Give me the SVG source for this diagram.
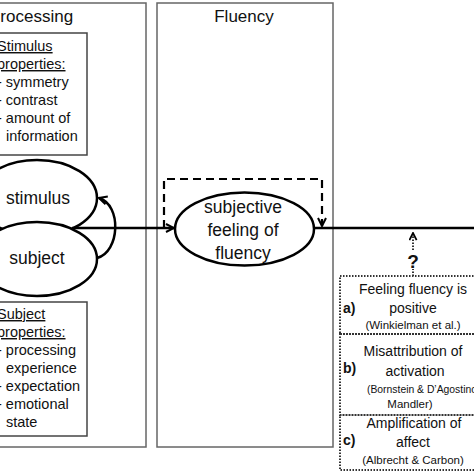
<svg xmlns="http://www.w3.org/2000/svg" width="474" height="474" viewBox="0 0 474 474">
<defs>
<style>
text{font-family:"Liberation Sans",Arial,sans-serif;fill:#111}
.panel{fill:none;stroke:#666;stroke-width:1.5}
.pbox{fill:#fff;stroke:#444;stroke-width:1.5}
.title{font-size:17px}
.prop{font-size:14.5px}
.ell{fill:#fff;stroke:#000;stroke-width:2.5}
.etext{font-size:17.5px;text-anchor:middle}
.dot{fill:none;stroke:#333;stroke-width:2;stroke-dasharray:1.5 1.5}
.rt{font-size:14px;text-anchor:middle}
.cite{font-size:11.5px}
.lbl{font-size:14px;font-weight:bold}
.line{fill:none;stroke:#000;stroke-width:2.5}
</style>
<marker id="open" viewBox="0 0 10 10" refX="9" refY="5" markerWidth="10" markerHeight="10" markerUnits="userSpaceOnUse" orient="auto">
<path d="M1,1 L9,5 L1,9" fill="none" stroke="#000" stroke-width="2"/>
</marker>
<marker id="small" viewBox="0 0 10 10" refX="9" refY="5" markerWidth="9" markerHeight="9" markerUnits="userSpaceOnUse" orient="auto">
<path d="M1,1 L9,5 L1,9" fill="none" stroke="#000" stroke-width="2"/>
</marker>
</defs>
<rect width="474" height="474" fill="#fff"/>

<g id="panel-processing">
<rect class="panel" x="-10" y="3" width="156" height="444"/>
<text class="title" x="-11" y="22">Processing</text>
</g>
<g id="panel-fluency">
<rect class="panel" x="157" y="3" width="176" height="444"/>
<text class="title" x="244" y="22" text-anchor="middle">Fluency</text>
</g>

<g id="stimulus-properties">
<rect class="pbox" x="-10" y="33" width="97" height="122"/>
<text class="prop" x="-3" y="51" text-decoration="underline">Stimulus</text>
<text class="prop" x="-3" y="69" text-decoration="underline">properties:</text>
<text class="prop" x="-3" y="87">- symmetry</text>
<text class="prop" x="-3" y="105">- contrast</text>
<text class="prop" x="-3" y="123">- amount of</text>
<text class="prop" x="6" y="141">information</text>
</g>

<g id="subject-properties">
<rect class="pbox" x="-10" y="302" width="97" height="134"/>
<text class="prop" x="-3" y="319" text-decoration="underline">Subject</text>
<text class="prop" x="-3" y="337" text-decoration="underline">properties:</text>
<text class="prop" x="-3" y="355">- processing</text>
<text class="prop" x="6" y="373">experience</text>
<text class="prop" x="-3" y="391">- expectation</text>
<text class="prop" x="-3" y="409">- emotional</text>
<text class="prop" x="6" y="427">state</text>
</g>

<g id="stimulus">
<ellipse class="ell" cx="37" cy="198" rx="60" ry="38"/>
<text class="etext" x="38" y="204">stimulus</text>
</g>
<g id="subject">
<ellipse class="ell" cx="37" cy="259" rx="60" ry="37"/>
<text class="etext" x="37" y="264">subject</text>
</g>

<g id="fluency-feeling">
<ellipse class="ell" cx="244.5" cy="229" rx="69.5" ry="36.5"/>
<text class="etext" x="243" y="213">subjective</text>
<text class="etext" x="243" y="236">feeling of</text>
<text class="etext" x="243" y="259">fluency</text>
</g>

<g id="connectors">
<path class="line" d="M72,228 H174" marker-end="url(#open)"/>
<path class="line" d="M97,258 C120,252 122,205 99,198" marker-end="url(#open)"/>
<path class="line" d="M314,228 H480"/>
<path d="M164,228 V179 H322 V226" fill="none" stroke="#000" stroke-width="2.2" stroke-dasharray="8 5" marker-end="url(#open)"/>
<path d="M413,276 V269" class="dot" stroke="#000"/>
<path d="M413,250 V233" class="dot" stroke="#000" marker-end="url(#small)"/>
<text x="413" y="268" font-size="19" font-weight="bold" text-anchor="middle">?</text>
</g>

<g id="explanation-a">
<rect class="dot" x="340" y="276" width="140" height="58"/>
<text class="rt" x="413" y="294">Feeling fluency is</text>
<text class="rt" x="413" y="313">positive</text>
<text class="rt cite" x="413" y="329">(Winkielman et al.)</text>
<text class="lbl" x="343" y="313">a)</text>
</g>
<g id="explanation-b">
<rect class="dot" x="340" y="334" width="140" height="81"/>
<text class="rt" x="413" y="356">Misattribution of</text>
<text class="rt" x="415" y="376">activation</text>
<text class="cite" x="367" y="393" textLength="110" lengthAdjust="spacingAndGlyphs">(Bornstein &amp; D’Agostino</text>
<text class="rt cite" x="410" y="408">Mandler)</text>
<text class="lbl" x="343" y="373">b)</text>
</g>
<g id="explanation-c">
<rect class="dot" x="340" y="415" width="140" height="55"/>
<text class="rt" x="414" y="428">Amplification of</text>
<text class="rt" x="413" y="447">affect</text>
<text class="rt cite" x="413" y="464">(Albrecht &amp; Carbon)</text>
<text class="lbl" x="343" y="445">c)</text>
</g>
</svg>
